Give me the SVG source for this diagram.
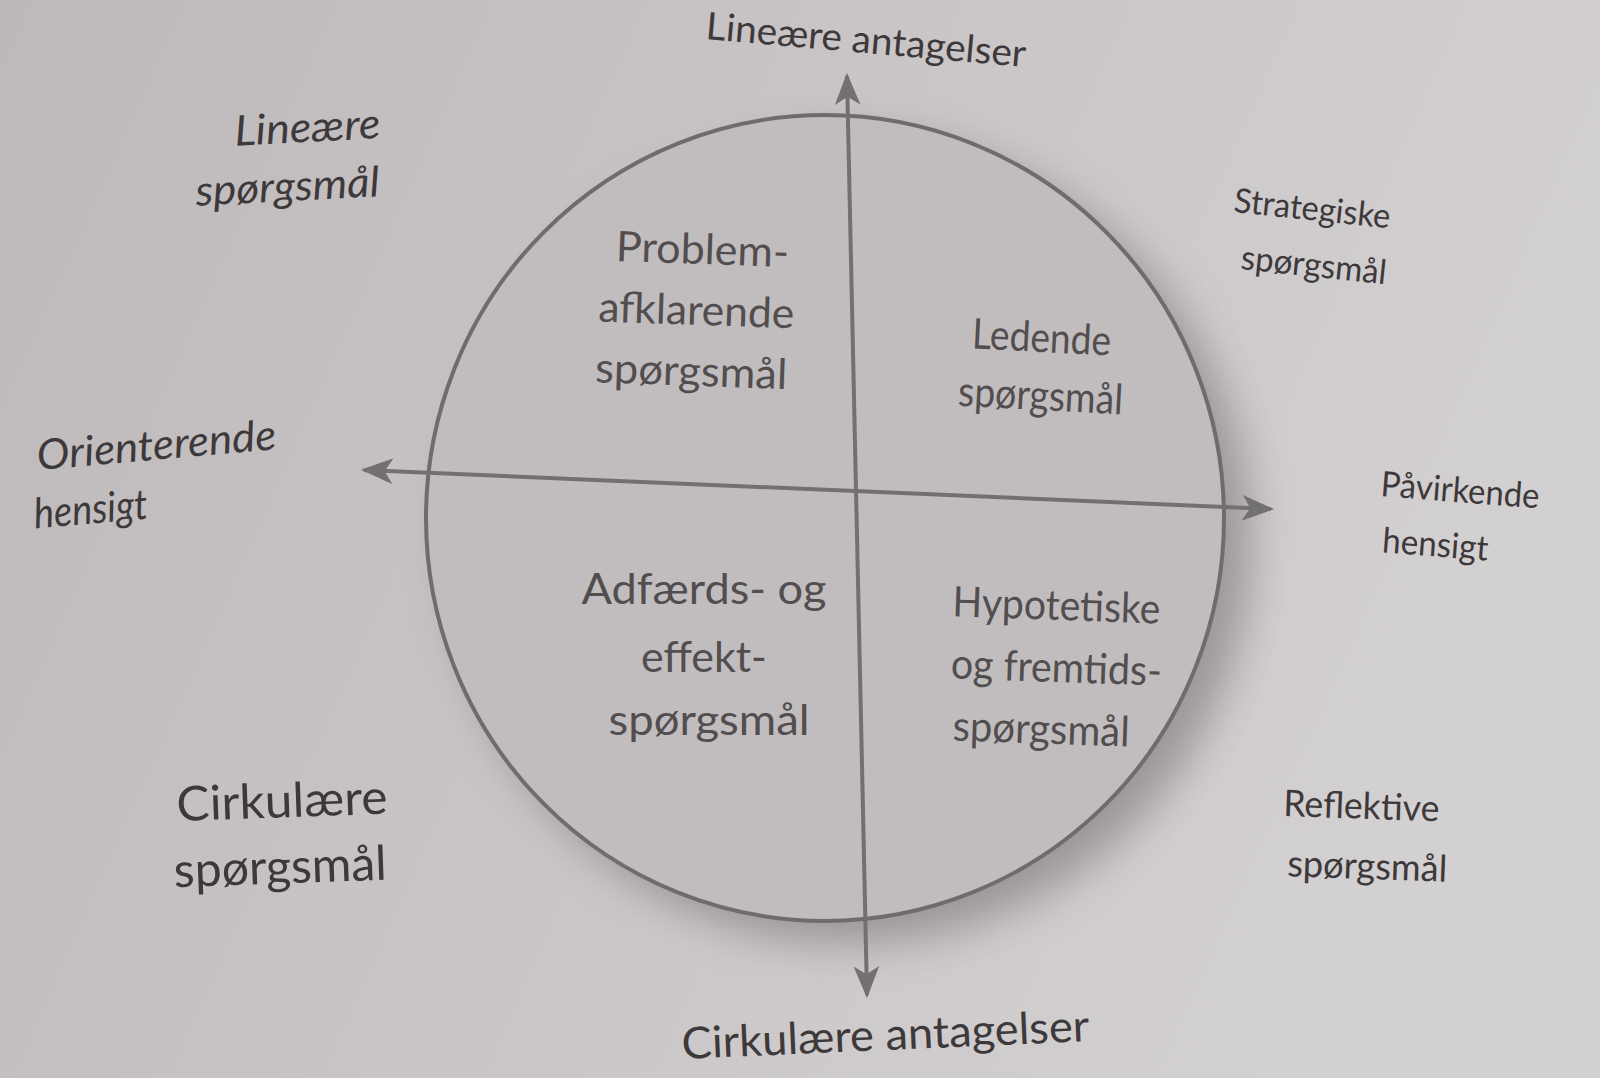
<svg xmlns="http://www.w3.org/2000/svg" width="1600" height="1078" viewBox="0 0 1600 1078">
<defs>
  <linearGradient id="bg" x1="0" y1="0" x2="1" y2="0.3">
    <stop offset="0" stop-color="#bdb9ba"/>
    <stop offset="0.5" stop-color="#c9c5c6"/>
    <stop offset="1" stop-color="#d3d0d1"/>
  </linearGradient>
  <filter id="blur" x="-20%" y="-20%" width="140%" height="140%">
    <feGaussianBlur stdDeviation="22"/>
  </filter>
  <marker id="arr" viewBox="0 0 20 16" refX="18" refY="8" markerWidth="8" markerHeight="6.4" orient="auto-start-reverse" markerUnits="strokeWidth">
    <path d="M0,0 L20,8 L0,16 L5,8 Z" fill="#737071"/>
  </marker>
  <style>
    .t{font-family:"Lato","Open Sans","Liberation Sans",sans-serif;fill:#3d393a;}
    .q{font-family:"Lato","Open Sans","Liberation Sans",sans-serif;fill:#524d4e;font-size:42px;text-anchor:middle;}
    .i{font-style:italic;}
    .ax{stroke:#737071;stroke-width:4;fill:none;marker-start:url(#arr);marker-end:url(#arr);}
  </style>
</defs>
<rect width="1600" height="1078" fill="url(#bg)"/>

<g id="circle">
  <ellipse cx="850" cy="540" rx="400" ry="403" fill="#6f6b6c" opacity="0.55" filter="url(#blur)"/>
  <ellipse cx="825" cy="518" rx="399" ry="403" fill="#c1bdbe" stroke="#706c6d" stroke-width="4"/>
</g>

<g id="connectors">
  <line class="ax" x1="847" y1="76" x2="867" y2="995"/>
  <line class="ax" x1="364" y1="470" x2="1271" y2="509"/>
</g>

<g id="lineaere-antagelser"><text class="t" font-size="38" x="865" y="53" text-anchor="middle" textLength="321" lengthAdjust="spacingAndGlyphs" transform="rotate(5 865 53)">Lineære antagelser</text></g>
<g id="cirkulaere-antagelser"><text class="t" font-size="44" x="886" y="1050" text-anchor="middle" textLength="408" lengthAdjust="spacingAndGlyphs" transform="rotate(-2.5 886 1050)">Cirkulære antagelser</text></g>
<g id="orienterende"><text class="t i" font-size="42" transform="rotate(-5 38 470)"><tspan x="38" y="470" textLength="240" lengthAdjust="spacingAndGlyphs">Orienterende</tspan><tspan x="30" y="528" textLength="114" lengthAdjust="spacingAndGlyphs">hensigt</tspan></text></g>
<g id="paavirkende"><text class="t" font-size="35" transform="rotate(4.5 1380 496)"><tspan x="1380" y="496" textLength="159" lengthAdjust="spacingAndGlyphs">Påvirkende</tspan><tspan x="1386" y="552" textLength="106" lengthAdjust="spacingAndGlyphs">hensigt</tspan></text></g>
<g id="lineaere-sporgsmaal"><text class="t i" font-size="42" text-anchor="end" transform="rotate(-3 381 138)"><tspan x="381" y="138" textLength="146" lengthAdjust="spacingAndGlyphs">Lineære</tspan><tspan x="377" y="196" textLength="184" lengthAdjust="spacingAndGlyphs">spørgsmål</tspan></text></g>
<g id="strategiske"><text class="t" font-size="34" transform="rotate(6 1233 212)"><tspan x="1233" y="212" textLength="157" lengthAdjust="spacingAndGlyphs">Strategiske</tspan><tspan x="1246" y="268" textLength="146" lengthAdjust="spacingAndGlyphs">spørgsmål</tspan></text></g>
<g id="cirkulaere-sporgsmaal"><text class="t" font-size="48" transform="rotate(-2 177 821)"><tspan x="177" y="821" textLength="211" lengthAdjust="spacingAndGlyphs">Cirkulære</tspan><tspan x="172" y="887" textLength="213" lengthAdjust="spacingAndGlyphs">spørgsmål</tspan></text></g>
<g id="reflektive"><text class="t" font-size="37" transform="rotate(2 1283 816)"><tspan x="1283" y="816" textLength="156" lengthAdjust="spacingAndGlyphs">Reflektive</tspan><tspan x="1289" y="876" textLength="160" lengthAdjust="spacingAndGlyphs">spørgsmål</tspan></text></g>

<g id="problemafklarende"><text class="q" transform="rotate(2 702 264)"><tspan x="702" y="264" textLength="173" lengthAdjust="spacingAndGlyphs">Problem-</tspan><tspan x="698" y="325" textLength="196" lengthAdjust="spacingAndGlyphs">afklarende</tspan><tspan x="695" y="386" textLength="192" lengthAdjust="spacingAndGlyphs">spørgsmål</tspan></text></g>
<g id="ledende"><text class="q" transform="rotate(3 1041 352)"><tspan x="1041" y="352" textLength="139" lengthAdjust="spacingAndGlyphs">Ledende</tspan><tspan x="1043" y="410" textLength="165" lengthAdjust="spacingAndGlyphs">spørgsmål</tspan></text></g>
<g id="adfaerds"><text class="q"><tspan x="704" y="604" textLength="245" lengthAdjust="spacingAndGlyphs">Adfærds- og</tspan><tspan x="704" y="672" textLength="126" lengthAdjust="spacingAndGlyphs">effekt-</tspan><tspan x="709" y="735" textLength="201" lengthAdjust="spacingAndGlyphs">spørgsmål</tspan></text></g>
<g id="hypotetiske"><text class="q" transform="rotate(2 1056 620)"><tspan x="1056" y="620" textLength="208" lengthAdjust="spacingAndGlyphs">Hypotetiske</tspan><tspan x="1058" y="682" textLength="211" lengthAdjust="spacingAndGlyphs">og fremtids-</tspan><tspan x="1045" y="744" textLength="177" lengthAdjust="spacingAndGlyphs">spørgsmål</tspan></text></g>
</svg>
